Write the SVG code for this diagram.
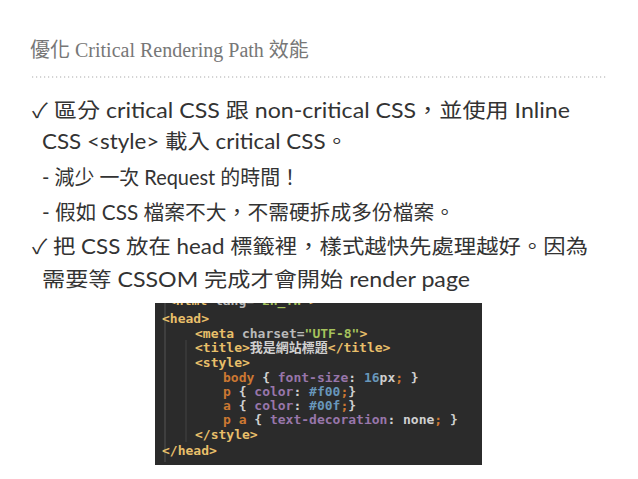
<svg xmlns="http://www.w3.org/2000/svg" width="638" height="479" viewBox="0 0 638 479">
<style>
.t{font-family:"Lato","Noto Sans CJK TC",sans-serif;font-size:20.5px;fill:#333}
.c{font-family:"DejaVu Sans Mono","Noto Sans CJK TC",monospace;font-size:13px;font-weight:bold}
.tg{fill:#e8bf6a}.at{fill:#bababa}.s{fill:#a5c25c}.w{fill:#d0d0d0}.k{fill:#cc7832}.p{fill:#9876aa}.n{fill:#6897bb}
</style>
<defs><clipPath id="cp"><rect x="155" y="303" width="327" height="162"/></clipPath></defs>
<rect width="638" height="479" fill="#fff"/>
<g id="title">
<text x="30" y="57" font-family="Liberation Serif,Noto Sans CJK TC,serif" font-size="20" fill="#777">優化 Critical Rendering Path 效能</text>
<line x1="32" y1="77" x2="608" y2="77" stroke="#aaa" stroke-width="1.2" stroke-dasharray="1.2,2.8"/>
</g>
<g id="body">
<text class="t" x="32" y="118" textLength="538" lengthAdjust="spacingAndGlyphs">✓ 區分 critical CSS 跟 non-critical CSS，並使用 Inline</text>
<text class="t" x="42" y="149" textLength="306" lengthAdjust="spacingAndGlyphs">CSS &lt;style&gt; 載入 critical CSS。</text>
<text class="t" x="42" y="185" textLength="258" lengthAdjust="spacingAndGlyphs">- 減少 一次 Request 的時間！</text>
<text class="t" x="42" y="220" textLength="413" lengthAdjust="spacingAndGlyphs">- 假如 CSS 檔案不大，不需硬拆成多份檔案。</text>
<text class="t" x="32" y="254" textLength="556" lengthAdjust="spacingAndGlyphs">✓ 把 CSS 放在 head 標籤裡，樣式越快先處理越好。因為</text>
<text class="t" x="42" y="287" textLength="428" lengthAdjust="spacingAndGlyphs">需要等 CSSOM 完成才會開始 render page</text>
</g>
<g id="code">
<rect x="155" y="303" width="327" height="162" fill="#2b2b2b"/>
<g clip-path="url(#cp)">
<line x1="165" y1="303" x2="165" y2="462" stroke="#555"/>
<line x1="186" y1="340" x2="186" y2="442" stroke="#444"/>
<text class="c" x="168" y="305"><tspan class="tg">&lt;html </tspan><tspan class="at">lang=</tspan><tspan class="s">"zh_TW"</tspan><tspan class="tg">&gt;</tspan></text>
<text class="c tg" x="162" y="323">&lt;head&gt;</text>
<text class="c" x="195" y="338"><tspan class="tg">&lt;meta </tspan><tspan class="at">charset=</tspan><tspan class="s">"UTF-8"</tspan><tspan class="tg">&gt;</tspan></text>
<text class="c" x="195" y="352"><tspan class="tg">&lt;title&gt;</tspan><tspan class="w">我是網站標題</tspan><tspan class="tg">&lt;/title&gt;</tspan></text>
<text class="c tg" x="195" y="367">&lt;style&gt;</text>
<text class="c" x="223" y="382"><tspan class="k">body</tspan><tspan class="w"> { </tspan><tspan class="p">font-size</tspan><tspan class="w">: </tspan><tspan class="n">16</tspan><tspan class="w">px</tspan><tspan class="k">;</tspan><tspan class="w"> }</tspan></text>
<text class="c" x="223" y="396"><tspan class="k">p</tspan><tspan class="w"> { </tspan><tspan class="p">color</tspan><tspan class="w">: </tspan><tspan class="n">#f00</tspan><tspan class="k">;</tspan><tspan class="w">}</tspan></text>
<text class="c" x="223" y="410"><tspan class="k">a</tspan><tspan class="w"> { </tspan><tspan class="p">color</tspan><tspan class="w">: </tspan><tspan class="n">#00f</tspan><tspan class="k">;</tspan><tspan class="w">}</tspan></text>
<text class="c" x="223" y="424"><tspan class="k">p a</tspan><tspan class="w"> { </tspan><tspan class="p">text-decoration</tspan><tspan class="w">: none</tspan><tspan class="k">;</tspan><tspan class="w"> }</tspan></text>
<text class="c tg" x="195" y="439">&lt;/style&gt;</text>
<text class="c tg" x="162" y="455">&lt;/head&gt;</text>
</g>
</g>
</svg>
